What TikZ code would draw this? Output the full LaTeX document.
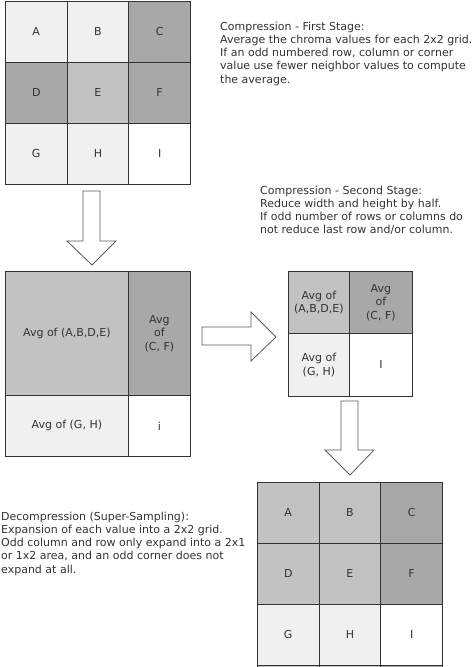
\documentclass[tikz,border=0pt]{standalone}
\usepackage{fontspec}
\setmainfont{DejaVu Sans}
\begin{document}
\begin{tikzpicture}[x=1pt,y=-1pt,
  txt/.style={font=\fontsize{11}{13.3}\selectfont, text=black!80},
  cell/.style={draw=black!80, line width=0.8pt, anchor=north west, inner sep=0pt,
    align=center, font=\fontsize{11}{13.5}\selectfont, text=black!80},
  lite/.style={fill=black!6},
  midg/.style={fill=black!24},
  dark/.style={fill=black!34},
  blank/.style={fill=white},
  blockarrow/.style={draw=black!65, line width=0.8pt, fill=white, line join=miter}]
\useasboundingbox (0,0) rectangle (473,667);
\clip (0,0) rectangle (473,667);
% ---- top grid (first stage) ----
\begin{scope}[cell/.append style={minimum width=61.7pt, minimum height=61pt}]
\node[cell,lite] (tA) at (5,1) {A};
\node[cell,lite] (tB) at (66.7,1) {B};
\node[cell,dark] (tC) at (128.4,1) {C};
\node[cell,dark] (tD) at (5,62) {D};
\node[cell,midg] (tE) at (66.7,62) {E};
\node[cell,dark] (tF) at (128.4,62) {F};
\node[cell,lite] (tG) at (5,123) {G};
\node[cell,lite] (tH) at (66.7,123) {H};
\node[cell,blank] (tI) at (128.4,123) {I};
\end{scope}
\node[txt, anchor=north west, align=left, inner sep=0pt] (t1) at (220,21.5) {Compression - First Stage:\\
Average the chroma values for each 2x2 grid.\\
If an odd numbered row, column or corner\\
value use fewer neighbor values to compute\\
the average.};
% ---- arrow 1 ----
\draw[blockarrow] (83,191) -- (100,191) -- (100,241) -- (116,241) -- (92,265) -- (67,241) -- (83,241) -- cycle;
% ---- middle grid ----
\node[cell,midg, minimum width=123pt, minimum height=124pt] (mABDE) at (5,271) {Avg of (A,B,D,E)};
\node[cell,dark, minimum width=62pt, minimum height=124pt] (mCF) at (128,271) {Avg\\of\\(C, F)};
\node[cell,lite, minimum width=123pt, minimum height=61pt] (mGH) at (5,395) {Avg of (G, H)};
\node[cell,blank, minimum width=62pt, minimum height=61pt] (mI) at (128,395) {i};
% ---- arrow 2 ----
\draw[blockarrow] (202,327) -- (251,327) -- (251,312) -- (276,337) -- (251,361) -- (251,345) -- (202,345) -- cycle;
% ---- second stage text ----
\node[txt, anchor=north west, align=left, inner sep=0pt] (t2) at (260,185.5) {Compression - Second Stage:\\
Reduce width and height by half.\\
If odd number of rows or columns do\\
not reduce last row and/or column.};
% ---- small grid ----
\node[cell,midg, minimum width=61pt, minimum height=62pt] (sABDE) at (288,271) {Avg of\\(A,B,D,E)};
\node[cell,dark, minimum width=63pt, minimum height=62pt] (sCF) at (349,271) {Avg\\of\\(C, F)};
\node[cell,lite, minimum width=61pt, minimum height=63pt] (sGH) at (288,333) {Avg of\\(G, H)};
\node[cell,blank, minimum width=63pt, minimum height=63pt] (sI) at (349,333) {I};
% ---- arrow 3 ----
\draw[blockarrow] (341,401) -- (358,401) -- (358,450) -- (374,450) -- (350,475) -- (325,450) -- (341,450) -- cycle;
% ---- decompression text ----
\node[txt, anchor=north west, align=left, inner sep=0pt] (t3) at (1,511.5) {Decompression (Super-Sampling):\\
Expansion of each value into a 2x2 grid.\\
Odd column and row only expand into a 2x1\\
or 1x2 area, and an odd corner does not\\
expand at all.};
% ---- bottom grid ----
\begin{scope}[cell/.append style={minimum width=61.7pt, minimum height=61pt}]
\node[cell,midg] (bA) at (257,482) {A};
\node[cell,midg] (bB) at (318.7,482) {B};
\node[cell,dark] (bC) at (380.4,482) {C};
\node[cell,midg] (bD) at (257,543) {D};
\node[cell,midg] (bE) at (318.7,543) {E};
\node[cell,dark] (bF) at (380.4,543) {F};
\node[cell,lite] (bG) at (257,604) {G};
\node[cell,lite] (bH) at (318.7,604) {H};
\node[cell,blank] (bI) at (380.4,604) {I};
\node[cell,midg] (bJ) at (257,665) {};
\node[cell,midg] (bK) at (318.7,665) {};
\node[cell,dark] (bL) at (380.4,665) {};
\end{scope}
\end{tikzpicture}
\end{document}
